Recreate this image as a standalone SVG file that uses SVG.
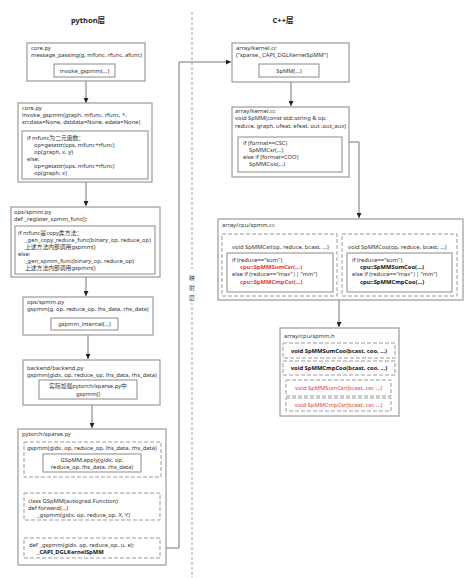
<svg xmlns="http://www.w3.org/2000/svg" width="474" height="578" viewBox="0 0 474 578">
<defs>
<style>
.bg{fill:#fff}
.box{fill:#fff;stroke:#9a9a9a;stroke-width:1.2}
.in{fill:none;stroke:#8a8a8a;stroke-width:1}
.dash{fill:none;stroke:#9a9a9a;stroke-width:1;stroke-dasharray:4 2}
.ln{fill:none;stroke:#777;stroke-width:1}
.mid{fill:none;stroke:#888;stroke-width:0.8;stroke-dasharray:3 2}
text{font-family:"Noto Sans","Noto Sans CJK SC",sans-serif;font-size:5.8px;fill:#333}
.c{text-anchor:middle}
.b{font-weight:bold;fill:#111}
.r{fill:#e53935;font-weight:bold}
.rn{fill:#e53935}
.title{font-size:7.5px;font-weight:bold;fill:#222}
</style>
<marker id="ar" viewBox="0 0 6 6" refX="6" refY="3" markerWidth="5" markerHeight="5" orient="auto" markerUnits="userSpaceOnUse">
<path d="M0,0 L6,3 L0,6 z" fill="#222"/>
</marker>
</defs>
<rect width="474" height="578" fill="#fff"/>

<g id="divider">
<line class="mid" x1="192" y1="12" x2="192" y2="578"/>
<rect class="bg" x="187" y="269" width="10" height="34"/>
<text class="c" x="192" y="280">映</text>
<text class="c" x="192" y="290">射</text>
<text class="c" x="192" y="300">层</text>
</g>

<g id="titles">
<text class="title c" x="88" y="23">python层</text>
<text class="title c" x="283" y="23">C++层</text>
</g>

<g id="connectors">
<line class="ln" x1="86" y1="81" x2="86" y2="103" marker-end="url(#ar)"/>
<line class="ln" x1="86" y1="182" x2="86" y2="206" marker-end="url(#ar)"/>
<line class="ln" x1="86" y1="277" x2="86" y2="296" marker-end="url(#ar)"/>
<line class="ln" x1="88" y1="335" x2="88" y2="359" marker-end="url(#ar)"/>
<line class="ln" x1="92" y1="405" x2="92" y2="428" marker-end="url(#ar)"/>
<line class="ln" x1="92" y1="477" x2="92" y2="492" marker-end="url(#ar)"/>
<line class="ln" x1="92" y1="520" x2="92" y2="537" marker-end="url(#ar)"/>
<path class="ln" d="M166,548 H179 V62 H231" marker-end="url(#ar)"/>
<line class="ln" x1="291" y1="82" x2="291" y2="106" marker-end="url(#ar)"/>
<path class="ln" d="M342,142 H359 V218" marker-end="url(#ar)"/>
<line class="ln" x1="339" y1="300" x2="339" y2="327" marker-end="url(#ar)"/>
</g>

<g id="core-message-passing">
<rect class="box" x="27" y="43" width="118" height="38"/>
<text x="31" y="50">core.py</text>
<text x="31" y="57">message_passing(g, mfunc, rfunc, afunc)</text>
<rect class="in" x="54" y="64" width="61" height="13"/>
<text class="c" x="84.5" y="72.5">invoke_gspmm(...)</text>
</g>

<g id="core-invoke-gspmm">
<rect class="box" x="18" y="103" width="134" height="79"/>
<text x="22" y="110">core.py</text>
<text x="22" y="117">invoke_gspmm(graph, mfunc, rfunc, *,</text>
<text x="22" y="124">srcdata=None, dstdata=None, edata=None)</text>
<rect class="in" x="22" y="131" width="126" height="48"/>
<text x="27" y="140">if mfunc为二元函数：</text>
<text x="34" y="147">op=getattr(ops, mfunc+rfunc)</text>
<text x="34" y="154">op(graph, x, y)</text>
<text x="27" y="161">else:</text>
<text x="34" y="168">op=getattr(ops, mfunc+rfunc)</text>
<text x="34" y="175">op(graph, x)</text>
</g>

<g id="ops-register">
<rect class="box" x="11" y="207" width="149" height="70"/>
<text x="14" y="214">ops/spmm.py</text>
<text x="14" y="221">def _register_spmm_func():</text>
<rect class="in" x="15" y="226" width="140" height="48"/>
<text x="18" y="235">if mfunc是copy类方法：</text>
<text x="25" y="242">_gen_copy_reduce_func(binary_op, reduce_op)</text>
<text x="25" y="249">上述方法内部调用gspmm()</text>
<text x="18" y="256">else:</text>
<text x="25" y="263">_gen_spmm_func(binary_op, reduce_op)</text>
<text x="25" y="270">上述方法内部调用gspmm()</text>
</g>

<g id="ops-gspmm">
<rect class="box" x="23" y="297" width="130" height="38"/>
<text x="27" y="304">ops/spmm.py</text>
<text x="27" y="311">gspmm(g, op, reduce_op, lhs_data, rhs_data)</text>
<rect class="in" x="51" y="318" width="67" height="12"/>
<text class="c" x="84.5" y="326">gspmm_internal(...)</text>
</g>

<g id="backend">
<rect class="box" x="23" y="360" width="137" height="45"/>
<text x="27" y="370">backend/backend.py</text>
<text x="27" y="377">gspmm(gidx, op, reduce_op, lhs_data, rhs_data)</text>
<rect class="in" x="39" y="380" width="98" height="19"/>
<text class="c" x="88" y="388">实际加载pytorch/sparse.py中</text>
<text class="c" x="88" y="396">gspmm()</text>
</g>

<g id="pytorch-sparse">
<rect class="box" x="18" y="429" width="148" height="136"/>
<text x="22" y="436">pytorch/sparse.py</text>
<rect class="dash" x="24" y="442" width="137" height="35"/>
<text x="27" y="450">gspmm(gidx, op, reduce_op, lhs_data, rhs_data)</text>
<rect class="in" x="43" y="454" width="98" height="18"/>
<text class="c" x="92" y="462">GSpMM.apply(gidx, op,</text>
<text class="c" x="92" y="469">reduce_op, lhs_data, rhs_data)</text>
<rect class="dash" x="24" y="493" width="136" height="27"/>
<text x="28" y="503">class GSpMM(autograd.Function)</text>
<text x="28" y="510">def forward(...)</text>
<text x="37" y="517">_gspmm(gidx, op, reduce_op, X, Y)</text>
<rect class="dash" x="24" y="538" width="136" height="20"/>
<text x="29" y="547">def _gspmm(gidx, op, reduce_op, u, e):</text>
<text class="b" x="37" y="554">_CAPI_DGLKernelSpMM</text>
</g>

<g id="kernel-cc-entry">
<rect class="box" x="232" y="43" width="117" height="39"/>
<text x="236" y="50">array/kernel.cc</text>
<text x="236" y="57">("sparse._CAPI_DGLKernelSpMM")</text>
<rect class="in" x="259" y="64" width="60" height="13"/>
<text class="c" x="289" y="72.5">SpMM(...)</text>
</g>

<g id="kernel-cc-spmm">
<rect class="box" x="232" y="107" width="117" height="70"/>
<text x="235" y="113">array/kernel.cc</text>
<text x="235" y="120">void SpMM(const std::string &amp; op,</text>
<text x="235" y="128">reduce, graph, ufeat, efeat, out ,out_aux)</text>
<rect class="in" x="238" y="137" width="104" height="35"/>
<text x="243" y="145">if (format==CSC)</text>
<text x="249" y="152">SpMMCsr(...)</text>
<text x="243" y="159">else if (format=COO)</text>
<text x="249" y="166">SpMMCoo(...)</text>
</g>

<g id="cpu-spmm-cc">
<rect class="box" x="218" y="219" width="245" height="81"/>
<text x="222" y="227">array/cpu/spmm.cc</text>
<rect class="dash" x="222" y="234" width="115" height="62"/>
<text x="232" y="249">void SpMMCsr(op, reduce, bcast, ...)</text>
<rect class="in" x="227" y="253" width="106" height="39"/>
<text x="232" y="262">if (reduce=="sum")</text>
<text class="r" x="240" y="269">cpu::SpMMSumCsr(...)</text>
<text x="232" y="276">else if (reduce=="max"|| "min")</text>
<text class="r" x="240" y="284">cpu::SpMMCmpCsr(...)</text>
<rect class="dash" x="342" y="234" width="115" height="62"/>
<text x="348" y="249">void SpMMCoo(op, reduce, bcast, ...)</text>
<rect class="in" x="347" y="253" width="105" height="39"/>
<text x="352" y="262">if (reduce=="sum")</text>
<text class="b" x="360" y="269">cpu::SpMMSumCoo(...)</text>
<text x="352" y="276">else if (reduce=="max"|| "min")</text>
<text class="b" x="360" y="284">cpu::SpMMCmpCoo(...)</text>
</g>

<g id="cpu-spmm-h">
<rect class="box" x="280" y="328" width="119" height="88"/>
<text x="284" y="338">array/cpu/spmm.h</text>
<rect class="dash" x="283" y="343" width="112" height="15"/>
<text class="b c" x="339" y="353">void SpMMSumCoo(bcast, coo, ...)</text>
<rect class="dash" x="283" y="361" width="112" height="14"/>
<text class="b c" x="339" y="370">void SpMMCmpCoo(bcast, coo, ...)</text>
<rect class="dash" x="286" y="380" width="105" height="16"/>
<text class="rn c" x="338.5" y="390">void SpMMSumCsr(bcast, csr, ...)</text>
<rect class="dash" x="286" y="398" width="105" height="13"/>
<text class="rn c" x="338.5" y="406.5">void SpMMCmpCsr(bcast, csr, ...)</text>
</g>
</svg>
